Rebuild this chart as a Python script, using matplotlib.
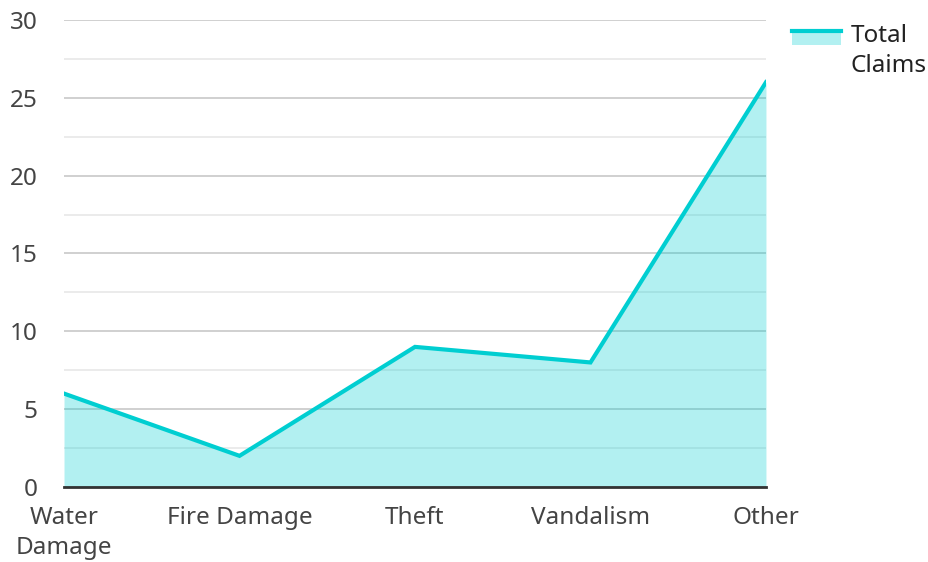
import matplotlib.pyplot as plt
from matplotlib.legend_handler import HandlerBase
from matplotlib.patches import Rectangle
from matplotlib.lines import Line2D

categories = ["Water\nDamage", "Fire Damage", "Theft", "Vandalism", "Other"]
claims = [6, 2, 9, 8, 26]
series_name = "Total\nClaims"

line_color = "#00CED1"

plt.rcParams['font.family'] = ['Noto Sans', 'DejaVu Sans']


class AreaHandler(HandlerBase):
    def create_artists(self, legend, orig_handle, xdescent, ydescent,
                       width, height, fontsize, trans):
        # lift the swatch so it sits beside the first label line
        up = 0.55 * fontsize
        rect = Rectangle((-xdescent, -ydescent + up), width, height,
                         facecolor=line_color, alpha=0.3, edgecolor='none',
                         transform=trans)
        ln = Line2D([-xdescent, -xdescent + width],
                    [-ydescent + up + height, -ydescent + up + height],
                    color=line_color, lw=3, transform=trans)
        return [rect, ln]


fig = plt.figure(figsize=(9.29, 5.62), dpi=100)
ax = fig.add_axes([0.0689, 0.1335, 0.7556, 0.8309])

x = list(range(len(categories)))
ax.fill_between(x, claims, 0, color=line_color, alpha=0.3, lw=0, zorder=1)
ax.plot(x, claims, color=line_color, lw=3, zorder=3, solid_joinstyle='miter')

ax.set_xlim(0, len(categories) - 1)
ax.set_ylim(0, 30)
ax.set_yticks(range(0, 31, 5))
ax.set_yticks([2.5 + 5 * i for i in range(6)], minor=True)
ax.set_axisbelow(True)
ax.grid(axis='y', which='major', color='#c8c8c8', lw=1.2)
ax.grid(axis='y', which='minor', color='#e8e8e8', lw=1.2)

ax.set_xticks(x)
ax.set_xticklabels(categories, linespacing=1.375)
ax.tick_params(axis='both', which='both', length=0, labelsize=17.5, labelcolor='#444444')
ax.tick_params(axis='x', pad=13.5)
ax.tick_params(axis='y', pad=19)

for s in ['top', 'right', 'left']:
    ax.spines[s].set_visible(False)
ax.spines['bottom'].set_color('#333333')
ax.spines['bottom'].set_linewidth(2)
ax.spines['bottom'].set_zorder(4)

handle = Rectangle((0, 0), 1, 1)
leg = fig.legend([handle], [series_name], handler_map={Rectangle: AreaHandler()},
                 loc='upper left', bbox_to_anchor=(0.8525, 0.958), frameon=False,
                 borderpad=0, borderaxespad=0,
                 fontsize=17.5, handlelength=2.0, handleheight=0.5, handletextpad=0.42,
                 labelcolor='#222222')
for t in leg.get_texts():
    t.set_linespacing(1.38)

fig.savefig("out.png", dpi=100)
